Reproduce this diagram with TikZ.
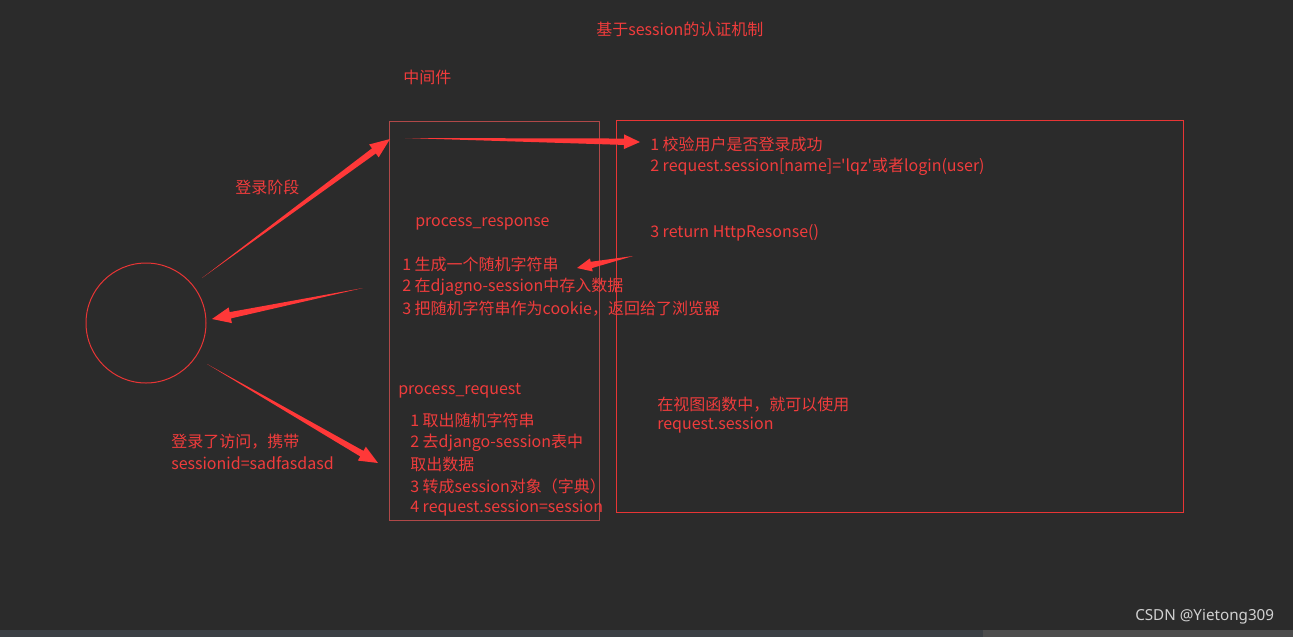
\documentclass[tikz,border=0pt]{standalone}
\usepackage{fontspec}
\newfontfamily\cjk{Noto Sans CJK SC}
\newfontfamily\wmfont{Noto Sans}
\usetikzlibrary{calc}
\definecolor{bg}{HTML}{2B2B2B}
\definecolor{txtred}{HTML}{F03C3C}
\definecolor{boxred}{HTML}{E83535}
\definecolor{dimred}{HTML}{B04848}
\definecolor{arrred}{HTML}{FF3838}
\definecolor{stripA}{HTML}{3B3F44}
\definecolor{stripB}{HTML}{4D4D4D}
\newcommand\taparrow[4]{% start, tip, head length, head half-width
  \coordinate (tB) at ($(#2)!#3!(#1)$);
  \fill[arrred] (#1) -- ($(tB)!2.4pt!90:(#2)$) -- ($(tB)!#4!90:(#2)$) -- (#2)
    -- ($(tB)!#4!-90:(#2)$) -- ($(tB)!2.4pt!-90:(#2)$) -- cycle;
}
\begin{document}
\begin{tikzpicture}[x=0.75pt,y=-0.75pt,
  txt/.style={text=txtred,font=\cjk\fontsize{12pt}{14pt}\selectfont,inner sep=0pt,anchor=west,yshift=-1.2pt},
  mbox/.style={draw=dimred,line width=0.75pt},
  vbox/.style={draw=boxred,line width=0.75pt}]
% background
\fill[bg] (0,0) rectangle (1293,637);
\useasboundingbox (0,0) rectangle (1293,637);
\fill[stripA] (0,630) rectangle (983,637);
\fill[stripB] (983,630) rectangle (1293,637);
% title
\node[txt] (title) at (596,28) {基于session的认证机制};
\node[txt] (mw) at (403,76) {中间件};
% boxes
\draw[mbox] (389,121) rectangle (599,520);
\draw[vbox] (616,120) rectangle (1183,512);
% browser circle
\draw[vbox] (146,323) circle (60);
% labels
\node[txt] (login) at (235,186) {登录阶段};
\node[txt] (after1) at (171,440) {登录了访问，携带};
\node[txt] (after2) at (171,462) {sessionid=sadfasdasd};
% process_response
\node[txt] (presp) at (415,222) {process\_response};
\node[txt] (r1) at (402,263) {1 生成一个随机字符串};
\node[txt] (r2) at (402,285) {2 在djagno-session中存入数据};
\node[txt] (r3) at (402,307) {3 把随机字符串作为cookie，返回给了浏览器};
% process_request
\node[txt] (preq) at (398,389) {process\_request};
\node[txt] (q1) at (410,419) {1 取出随机字符串};
\node[txt] (q2) at (410,441) {2 去django-session表中};
\node[txt] (q3) at (410,463) {取出数据};
\node[txt] (q4) at (410,485) {3 转成session对象（字典）};
\node[txt] (q5) at (410,507) {4 request.session=session};
% view
\node[txt] (v1) at (650,143) {1 校验用户是否登录成功};
\node[txt] (v2) at (650,165) {2 request.session[name]='lqz'或者login(user)};
\node[txt] (v3) at (650,231) {3 return HttpResonse()};
\node[txt] (v4) at (657,403) {在视图函数中，就可以使用};
\node[txt] (v5) at (657,424) {request.session};
% watermark
\node[text=white!82!black,font=\wmfont\fontsize{11.4pt}{13pt}\selectfont,inner sep=0pt,anchor=west] (wm) at (1135,617) {CSDN @Yietong309};
% arrow endpoints
\coordinate (a1s) at (202,278); \coordinate (a1t) at (390,139);
\coordinate (a2s) at (405,138); \coordinate (a2t) at (640,142);
\coordinate (a3s) at (633,256); \coordinate (a3t) at (577,268);
\coordinate (a4s) at (363,288); \coordinate (a4t) at (212,319);
\coordinate (a5s) at (207,364); \coordinate (a5t) at (378,463);
\taparrow{a1s}{a1t}{15pt}{6pt}
\taparrow{a2s}{a2t}{12pt}{5.5pt}
\taparrow{a3s}{a3t}{11pt}{5pt}
\taparrow{a4s}{a4t}{14pt}{6pt}
\taparrow{a5s}{a5t}{14pt}{6pt}
\end{tikzpicture}
\end{document}
